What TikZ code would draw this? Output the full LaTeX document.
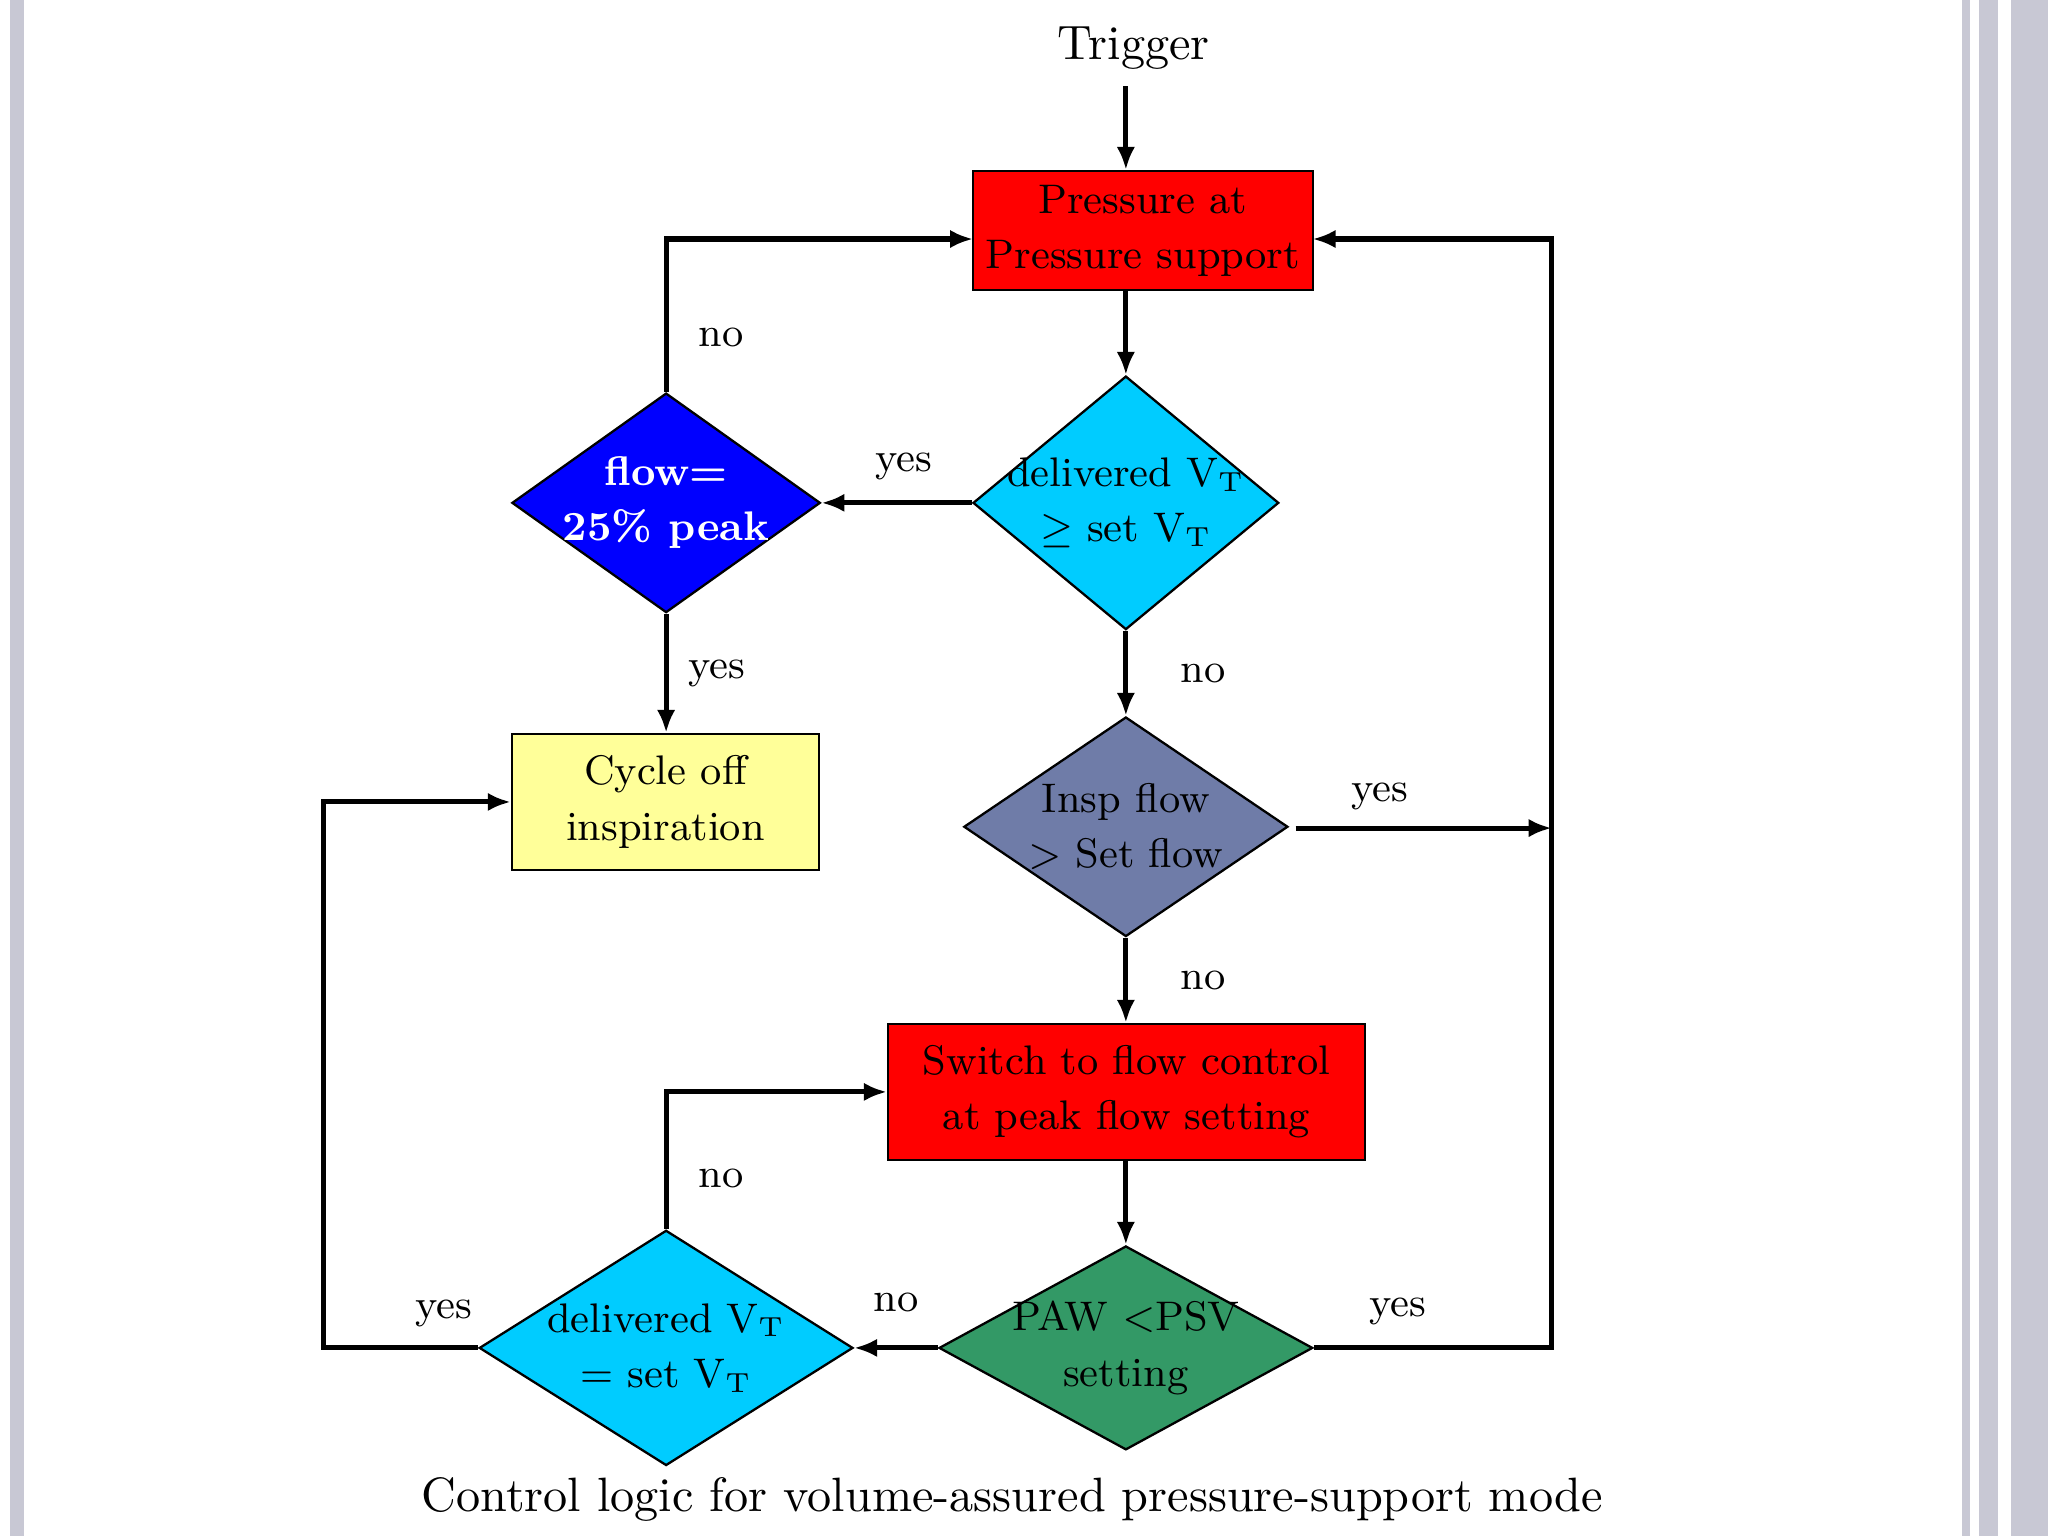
\documentclass[tikz,border=0pt]{standalone}
\usetikzlibrary{shapes.geometric,arrows.meta}
\definecolor{cyn}{HTML}{00CCFF}
\definecolor{grn}{HTML}{339966}
\definecolor{slt}{HTML}{6F7CA8}
\definecolor{yel}{HTML}{FFFF99}
\definecolor{bar}{HTML}{C8C8D4}
\begin{document}
\begin{tikzpicture}[x=0.01cm,y=-0.01cm,
  every node/.style={font=\fontsize{9}{12}\selectfont},
  box/.style={draw=black,line width=0.5pt,rectangle,inner sep=0pt},
  dia/.style={draw=black,line width=0.5pt,shape=diamond,inner sep=0pt},
  ar/.style={line width=1.1pt,-{Latex[length=5pt,width=4pt]}},
  lbl/.style={align=center}]
\useasboundingbox (0,0) rectangle (1568,1176);
\fill[white] (0,0) rectangle (1568,1176);
% side bars
\fill[bar] (8,0) rectangle (18,1176);
\fill[bar] (1502,0) rectangle (1508,1176);
\fill[bar] (1515,0) rectangle (1530,1176);
\fill[bar] (1540,0) rectangle (1568,1176);
% nodes
\node (trig) at (868,37) {\fontsize{10.5}{13}\selectfont Trigger};
\coordinate (trigb) at (862,66);
\node[box,fill=red,minimum width=2.60cm,minimum height=0.91cm,align=center] (b1) at (875,176.5) {Pressure at\\Pressure support};
\node[dia,fill=cyn,minimum width=2.34cm,minimum height=1.94cm] (d1) at (862,385) {};
\node[lbl] at (d1) {delivered V$_\mathrm{T}$\\$\geq$ set V$_\mathrm{T}$};
\node[dia,fill=blue,minimum width=2.36cm,minimum height=1.68cm] (d2) at (510,385) {};
\node[lbl,text=white,font=\bfseries\fontsize{9}{12}\selectfont] at (d2) {flow=\\25\% peak};
\node[box,fill=yel,minimum width=2.35cm,minimum height=1.04cm,align=center] (c1) at (509.5,614) {Cycle off\\inspiration};
\node[dia,fill=slt,minimum width=2.48cm,minimum height=1.68cm] (d3) at (862,633) {};
\node[lbl] at (d3) {Insp flow\\$>$ Set flow};
\node[box,fill=red,minimum width=3.65cm,minimum height=1.04cm,align=center] (b2) at (862.5,836) {Switch to flow control\\at peak flow setting};
\node[dia,fill=grn,minimum width=2.86cm,minimum height=1.56cm] (d4) at (862,1032) {};
\node[lbl] at (d4) {PAW $<$PSV\\setting};
\node[dia,fill=cyn,minimum width=2.86cm,minimum height=1.80cm] (d5) at (510,1032) {};
\node[lbl] at (d5) {delivered V$_\mathrm{T}$\\= set V$_\mathrm{T}$};
\node (cap) at (775,1148) {\fontsize{10.5}{13}\selectfont Control logic for volume-assured pressure-support mode};
\coordinate (j1) at (1188,634);
\coordinate (s3) at (992,634);
\coordinate (b1w) at (745,183);
\coordinate (b1e) at (1005,183);
% connectors
\draw[ar] (trigb) -- (b1.north -| trigb);
\draw[ar] (b1.south -| trigb) -- (d1.north);
\draw[ar] (d1.west) -- (d2.east) node[pos=0.45,above=1pt] {yes};
\draw[ar] (d2.north) |- (b1w);
\node at (552,258) {no};
\draw[ar] (d2.south) -- (c1.north -| d2.south) node[midway,right=1pt] {yes};
\draw[ar] (d1.south) -- (d3.north) node[midway,right=8pt] {no};
\draw[ar] (s3) -- (j1) node[pos=0.33,above] {yes};
\draw[ar] (d3.south) -- (b2.north -| d3.south) node[midway,right=8pt] {no};
\draw[ar] (b2.south -| d4.north) -- (d4.north);
\draw[ar] (d4.east) -| (1188,183) -- (b1e);
\node at (1070,1004) {yes};
\draw[ar] (d4.west) -- (d5.east) node[midway,above=4pt] {no};
\draw[ar] (d5.north) |- (b2.west);
\node at (552,902) {no};
\draw[ar] (d5.west) -| (248,614) -- (c1.west);
\node at (340,1006) {yes};
\end{tikzpicture}
\end{document}
